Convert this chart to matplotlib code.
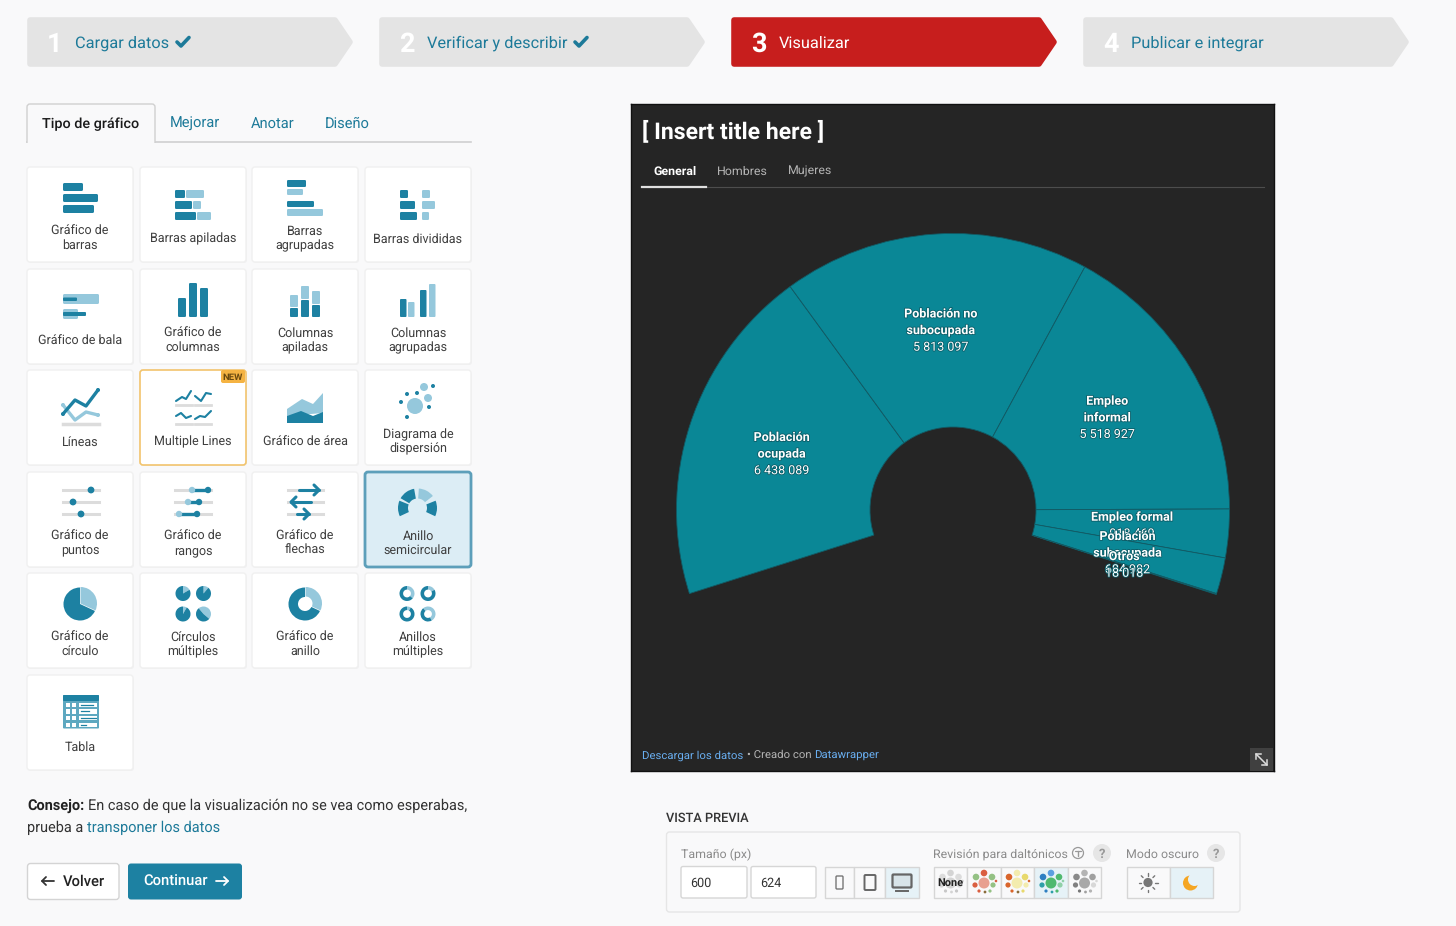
import numpy as np
import matplotlib
matplotlib.use('Agg')
import matplotlib.pyplot as plt
import matplotlib.patheffects as pe
from matplotlib.patches import FancyBboxPatch, Polygon, Wedge, Circle, Rectangle

plt.rcParams['font.family'] = ['Roboto', 'DejaVu Sans']
plt.rcParams['text.hinting'] = 'none'
plt.rcParams['text.hinting_factor'] = 8

# --- chart data ---
slice_names = ['Población\nocupada', 'Población no\nsubocupada', 'Empleo\ninformal',
               'Empleo formal', 'Población\nsubocupada', 'Otros']
slice_values = [6438089, 5813097, 5518927, 918469, 684982, 18018]
slice_labels = ['6 438 089', '5 813 097', '5 518 927', '918 469', '684 982', '18 018']

# --- interface texts ---
steps = ['Cargar datos', 'Verificar y describir', 'Visualizar', 'Publicar e integrar']
tile_names = [
    ['Gráfico de\nbarras', 'Barras apiladas', 'Barras\nagrupadas', 'Barras divididas'],
    ['Gráfico de bala', 'Gráfico de\ncolumnas', 'Columnas\napiladas', 'Columnas\nagrupadas'],
    ['Líneas', 'Multiple Lines', 'Gráfico de área', 'Diagrama de\ndispersión'],
    ['Gráfico de\npuntos', 'Gráfico de\nrangos', 'Gráfico de\nflechas', 'Anillo\nsemicircular'],
    ['Gráfico de\ncírculo', 'Círculos\nmúltiples', 'Gráfico de\nanillo', 'Anillos\nmúltiples'],
    ['Tabla'],
]
tab_names = ['Mejorar', 'Anotar', 'Diseño']
chart_tabs = ['General', 'Hombres', 'Mujeres']

BG = '#f9f9fa'
DARK = '#1d81a2'
LIGHT = '#95c8dc'
GRAY = '#dcdcdc'
LINK = '#1d7a99'
LABEL = '#4a4a4a'
CHART_BG = '#252525'
TEAL = '#0a8796'

fig = plt.figure(figsize=(14.56, 9.26), dpi=100, facecolor=BG)
ax = fig.add_axes([0, 0, 1, 1])
ax.set_xlim(0, 1456)
ax.set_ylim(926, 0)
ax.axis('off')


def box(x0, y0, x1, y1, fc='white', ec='none', r=3, lw=1, z=1):
    p = FancyBboxPatch((x0, y0), x1 - x0, y1 - y0, boxstyle=f'round,pad=0,rounding_size={r}',
                       fc=fc, ec=ec, lw=lw, zorder=z)
    ax.add_patch(p)
    return p


def txt(x, y, s, size=13, color=LABEL, ha='left', weight='normal', z=6, **kw):
    # size is in pixels, the figure runs at 100 dpi; y is the middle of the x-height line
    return ax.text(x, y + 0.36 * size, s, fontsize=size * 0.72, color=color, ha=ha, va='baseline',
                   fontweight=weight, zorder=z, **kw)


def poly(xs, ys, color=DARK, lw=2.0, z=5):
    ax.plot(xs, ys, color=color, lw=lw, solid_capstyle='round', solid_joinstyle='round', zorder=z)


def dot(x, y, r, color=DARK, z=5):
    ax.add_patch(Circle((x, y), r, fc=color, ec='none', zorder=z))


def wedge(cx, cy, r, a1, a2, color=DARK, width=None, z=5):
    # a1, a2 counted the usual way on screen, the axes have y going down
    ax.add_patch(Wedge((cx, cy), r, -a2, -a1, width=width, fc=color, ec='none', zorder=z))


def arrow(x0, x1, y, color=DARK, lw=2.2, head=5):
    d = 1 if x1 > x0 else -1
    poly([x0, x1], [y, y], color, lw)
    poly([x1 - d * head, x1, x1 - d * head], [y - head, y, y + head], color, lw)


# --- wizard steps ---
step_x = [27, 379, 731, 1083]
for i, (x, name) in enumerate(zip(step_x, steps)):
    active = i == 2
    ax.add_patch(Polygon([(x + 3, 20), (x + 308, 20), (x + 323, 42), (x + 308, 64), (x + 3, 64)],
                         closed=True, fc='#c71e1d' if active else '#e4e4e4',
                         ec='#c71e1d' if active else '#e4e4e4', lw=4, joinstyle='round', zorder=1))
    txt(x + 28, 42, str(i + 1), size=27, color='white', ha='center', weight='bold')
    txt(x + 48, 42, name, size=16.4, color='white' if active else LINK)
for cx in [183, 581]:
    poly([cx - 6, cx - 2, cx + 6], [42, 46, 37.5], LINK, 2.6)

# --- tabs ---
ax.plot([27, 471], [142, 142], color='#d0d0d0', lw=1.2, zorder=1)
box(27, 104, 155, 146, fc=BG, ec='#d0d0d0', r=3, z=2)
ax.add_patch(Rectangle((26, 142.6), 130, 6, fc=BG, ec='none', zorder=3))
txt(42, 123, 'Tipo de gráfico', size=14.4, color='#1a1a1a', weight='medium')
for x, name in zip([170, 251, 325], tab_names):
    txt(x, 123, name, size=14.6, color=LINK)

# --- chart type tiles ---
col_x = [27, 140, 252, 365]
row_y = [167, 269, 370, 472, 573, 675]
for r, names in enumerate(tile_names):
    for c, name in enumerate(names):
        x, y = col_x[c], row_y[r]
        fc, ec, lw = 'white', '#f0f0f0', 1
        if name == 'Multiple Lines':
            ec, lw = '#f2c46d', 1.2
        if name.startswith('Anillo\n'):
            fc, ec, lw = '#dcedf5', '#5d9fba', 2
        box(x + 1, y + 2, x + 107, y + 96, fc='#f1f1f2', z=1)
        box(x, y, x + 106, y + 95, fc=fc, ec=ec, lw=lw, z=2)
        tc = '#3f3f3f'
        if '\n' in name:
            l1, l2 = name.split('\n')
            txt(x + 53, y + 63.7, l1, size=12.5, ha='center', color=tc)
            txt(x + 53, y + 77.7, l2, size=12.5, ha='center', color=tc)
        else:
            txt(x + 53, y + 71.2, name, size=12.5, ha='center', color=tc)

box(221, 370, 245, 383, fc='#f5b342', r=2, z=3)
txt(233, 377, 'NEW', size=9.5, ha='center', color='#6b4a10', weight='bold')

# row 1 icons
for y0, y1, x1 in [(183, 191, 83), (194, 202, 98), (205, 213, 94)]:
    box(63, y0, x1, y1, fc=DARK, r=1.5, z=5)
for y0, xm, x1 in [(190, 185, 204), (201, 192, 201), (212, 196, 211)]:
    box(175, y0, xm, y0 + 8, fc=DARK, r=1.2, z=5)
    box(xm + 1, y0, x1, y0 + 8, fc=LIGHT, r=1.2, z=5)
for y0, y1, x1, col in [(180, 187, 306, DARK), (189, 195, 303, LIGHT), (201, 207, 314, DARK), (209, 216, 323, LIGHT)]:
    box(287, y0, x1, y1, fc=col, r=1.2, z=5)
for y0, x1, x2 in [(190, 408, 430), (201, 415, 435), (212, 417, 429)]:
    box(400, y0, x1, y0 + 8, fc=DARK, r=1.2, z=5)
    box(422, y0, x2, y0 + 8, fc=LIGHT, r=1.2, z=5)

# row 2 icons
box(63, 294, 99, 304, fc=LIGHT, r=1.5, z=5)
box(63, 297.5, 77, 301, fc=DARK, r=1, z=6)
box(63, 309, 78, 319, fc=LIGHT, r=1.5, z=5)
box(63, 312, 86, 316, fc=DARK, r=1, z=6)
for x0, y0 in [(178, 298), (189, 283), (200, 288)]:
    box(x0, y0, x0 + 8, 317, fc=DARK, r=1.2, z=5)
for x0, y0, ym in [(290, 295, 308), (301, 286, 300), (312, 291, 305)]:
    box(x0, y0, x0 + 8, ym - 1, fc=LIGHT, r=1, z=5)
    box(x0, ym, x0 + 8, 317, fc=DARK, r=1, z=5)
for x0, y0, col in [(400, 299, DARK), (408, 302, LIGHT), (420, 290, DARK), (429, 284, LIGHT)]:
    box(x0, y0, x0 + 6.5, 317, fc=col, r=1, z=5)

# row 3 icons
ax.plot([63, 99], [424, 424], color=GRAY, lw=2.5, zorder=4)
poly([63, 75, 86, 98], [405, 420, 412, 415], LIGHT, 2.4)
dot(63, 405, 2, LIGHT)
dot(98, 415, 2, LIGHT)
poly([63, 75, 86, 98], [414, 400, 406, 390], DARK, 2.4)
dot(63, 414, 2)
dot(98, 390, 2)
for x0, y0 in [(176, 405), (195, 405), (176, 424), (195, 424)]:
    ax.plot([x0, x0 + 16], [y0, y0], color=GRAY, lw=2, zorder=4)
poly([176, 182, 186, 191], [401, 397, 399, 391], DARK, 1.5)
poly([195, 201, 206, 211], [396, 401, 393, 394], DARK, 1.5)
poly([176, 181, 186, 191], [416, 413, 418, 416], DARK, 1.5)
poly([195, 200, 205, 211], [419, 416, 417, 411], DARK, 1.5)
ax.add_patch(Polygon([(287, 409), (302, 399), (313, 404), (323, 393), (323, 413), (287, 416)], fc=LIGHT, ec='none', zorder=5))
ax.add_patch(Polygon([(287, 416), (301, 411), (313, 416), (323, 412), (323, 423), (287, 423)], fc=DARK, ec='none', zorder=6))
for cx, cy, r, col in [(415, 406, 8, LIGHT), (424, 387, 4, LIGHT), (428, 398, 4, LIGHT), (433, 386, 2, DARK),
                       (407, 394, 2, DARK), (417, 393, 2, DARK), (401, 402, 2, DARK), (429, 407, 2, DARK), (407, 417, 2, DARK)]:
    dot(cx, cy, r, col)

# row 4 icons
for y0, xd in [(490, 91), (502, 73), (514, 81)]:
    ax.plot([63, 99], [y0, y0], color=GRAY, lw=2.2, zorder=4)
    dot(xd, y0, 3.4)
for y0, xa, xb in [(490, 192, 208), (502, 188, 199), (514, 179, 197)]:
    ax.plot([175, 211], [y0, y0], color=GRAY, lw=2.2, zorder=4)
    ax.plot([xa, xb], [y0, y0], color=DARK, lw=2.4, zorder=5)
    dot(xa, y0, 3.2, LIGHT, z=6)
    dot(xb, y0, 3.2, DARK, z=6)
for y0, xa, xb in [(490, 299, 319), (502, 311, 291), (514, 297, 309)]:
    ax.plot([288, 323], [y0, y0], color=GRAY, lw=2.2, zorder=4)
    arrow(xa, xb, y0)
for a1, a2, col in [(158, 205, DARK), (100, 150, DARK), (38, 86, LIGHT), (-25, 22, DARK)]:
    wedge(417.5, 508, 19.5, a1, a2, col, width=10)

# row 5 icons
wedge(80.5, 603.5, 16.5, -25, 90, LIGHT)
wedge(80, 604, 16.5, 90, 335, DARK)
for (cx, cy), a in zip([(183, 593.5), (203.5, 593.5), (183, 614), (203.5, 614)], [(30, 90), (50, 90), (60, 90), (-40, 130)]):
    wedge(cx, cy, 7.5, a[0], a[1], LIGHT)
    wedge(cx, cy, 7.5, a[1], a[0] + 360, DARK)
wedge(305.5, 603.5, 16.5, -25, 90, LIGHT, width=9.5)
wedge(305, 604, 16.5, 90, 335, DARK, width=9.5)
for (cx, cy), a in zip([(407, 593.5), (428, 593.5), (407, 614), (428, 614)], [(-40, 90), (30, 90), (60, 90), (-60, 130)]):
    wedge(cx, cy, 7.5, a[0], a[1], LIGHT, width=3.6)
    wedge(cx, cy, 7.5, a[1], a[0] + 360, DARK, width=3.6)

# table icon
box(63, 695, 99, 728.5, fc='#5ea8c0', r=1, z=5)
box(63, 695, 99, 701, fc=DARK, r=1, z=6)
for i, w in enumerate([12, 8, 15, 5]):
    y0 = 702.5 + i * 6.8
    for x0, x1 in [(65.5, 69.5), (72, 76), (79, 97)]:
        ax.add_patch(Rectangle((x0, y0), x1 - x0, 4.2, fc='white', ec='none', zorder=6))
    ax.plot([81, 81 + w], [y0 + 2.1, y0 + 2.1], color=DARK, lw=0.9, zorder=7)

# --- hint and buttons ---
txt(27, 805, 'Consejo:', size=14.5, color='#222222', weight='bold')
txt(88, 805, 'En caso de que la visualización no se vea como esperabas,', size=14.5, color='#333333')
txt(27, 827, 'prueba a', size=14.5, color='#333333')
txt(87, 827, 'transponer los datos', size=14.5, color=LINK)
box(27.5, 863.5, 119, 899.5, fc='white', ec='#d4d4d4', r=3, z=2)
arrow(54, 42, 881, '#333333', 1.3, 4)
txt(63, 881, 'Volver', size=14.8, color='#222222', weight='medium')
box(128, 863.5, 242, 899.5, fc=DARK, r=3, z=2)
txt(143, 881, 'Continuar', size=14.8, color='white', weight='medium')
arrow(216, 228, 881, 'white', 1.3, 4)

# --- chart panel, in its own axes so pie() works with y going up ---
px0, px1, py0, py1 = 631, 1274, 104, 771
cx, cy = 953, 510
chart = fig.add_axes([px0 / 1456, 1 - py1 / 926, (px1 - px0) / 1456, (py1 - py0) / 926], zorder=3)
chart.set_facecolor(CHART_BG)
for s in chart.spines.values():
    s.set_color('#111111')
    s.set_linewidth(1)

# the semicircle covers about 215 degrees, an unseen slice takes up the rest
sweep = 215.4
total = sum(slice_values)
hidden = total * (360 - sweep) / sweep
outer = 276.5
inner = 83
start = 197.6
wedges, _ = chart.pie(slice_values + [hidden], startangle=start, counterclock=False, radius=outer,
                      center=(0, 0), colors=[TEAL] * len(slice_values) + ['none'],
                      wedgeprops=dict(width=outer - inner, edgecolor='#125a64', linewidth=0.6),
                      frame=True)
wedges[-1].set_visible(False)
chart.set_aspect('auto')
chart.set_xlim(px0 - cx, px1 - cx)
chart.set_ylim(cy - py1, cy - py0)
chart.set_xticks([])
chart.set_yticks([])

halo = [pe.withStroke(linewidth=1.2, foreground='#0b5d68')]
ends = np.cumsum(slice_values)
for name, label, v, e in zip(slice_names, slice_labels, slice_values, ends):
    ang = np.radians(start - (e - v / 2) / total * sweep)
    lx, ly = 180 * np.cos(ang), 180 * np.sin(ang)
    lines = name.split('\n')
    n = len(lines) + 1
    for i, line in enumerate(lines + [label]):
        is_value = i == n - 1
        chart.text(lx - 0.3, ly + ((n - 1) / 2 - i) * 16.6 - 3.7, line, ha='center', va='baseline', color='white',
                   fontsize=12.5 * 0.72, fontweight='normal' if is_value else 'bold', path_effects=halo, zorder=6)


def ctext(x, y, s, size, color, weight='normal', ha='left'):
    chart.text(x - cx, cy - y - 0.36 * size + 0.8, s, fontsize=size * 0.72, color=color, fontweight=weight, ha=ha, va='baseline', zorder=7)


ctext(642, 131, '[ Insert title here ]', 23, 'white', 'bold')
for x, name, col, w in zip([653, 717, 788], chart_tabs, ['white', '#b4b4b4', '#b4b4b4'], ['bold', 'normal', 'normal']):
    ctext(x, 171, name, 12.4, col, w)
chart.plot([642 - cx, 1264 - cx], [cy - 187, cy - 187], color='#4d4d4d', lw=0.8, zorder=5)
chart.plot([642 - cx, 706 - cx], [cy - 186.5, cy - 186.5], color='#e0e0e0', lw=1.6, zorder=6)
ctext(642, 755, 'Descargar los datos', 11.4, '#69aef0')
ctext(747, 755, '• Creado con', 11.4, '#b4b4b4')
ctext(814, 755, 'Datawrapper', 11.4, '#69aef0')
chart.add_patch(Rectangle((1250 - cx, cy - 771), 23, 23, fc='#404040', ec='none', zorder=5))
chart.plot([1256 - cx, 1267 - cx], [cy - 754, cy - 765], color='#dddddd', lw=1.1, zorder=6)
for tx, ty, dx, dy in [(1256, 754, 1, 1), (1267, 765, -1, -1)]:
    chart.plot([tx + 5 * dx - cx, tx - cx, tx - cx], [cy - ty, cy - ty, cy - (ty + 5 * dy)], color='#dddddd', lw=1.1, zorder=6)

# --- preview controls ---
txt(666, 817.5, 'VISTA PREVIA', size=12.7, color='#333333', weight='medium')
box(666.5, 832, 1240, 912, fc=BG, ec='#e6e6e6', r=3, z=1)
txt(681, 853.5, 'Tamaño (px)', size=12.4, color='#8a8a8a')
txt(933, 853.5, 'Revisión para daltónicos', size=12.4, color='#8a8a8a')
txt(1126, 853.5, 'Modo oscuro', size=12.4, color='#8a8a8a')
for hx in [1102, 1216]:
    dot(hx, 853, 9, '#e6e6e6', z=2)
    txt(hx, 853, '?', size=13, color='#999999', ha='center', weight='bold')
ax.add_patch(Circle((1078, 853), 5.5, fc='none', ec='#999999', lw=0.9, zorder=3))
poly([1078, 1078], [851, 856], '#999999', 1)
poly([1075, 1081], [851, 851], '#999999', 0.9)

for x0, x1, s in [(681, 747, '600'), (751, 816, '624')]:
    box(x0, 866.5, x1, 898, fc='white', ec='#d6d6d6', r=2, z=2)
    txt(x0 + 9, 882.5, s, size=12.6, color='#333333')


def button_row(edges, selected):
    for j, (x0, x1) in enumerate(zip(edges[:-1], edges[1:])):
        fc = '#e6f2f7' if j == selected else BG
        ax.add_patch(Rectangle((x0, 867), x1 - x0, 31, fc=fc, ec='#d6d6d6', lw=1, zorder=2))


button_row([824.5, 854, 885, 918.5], 2)
button_row([933.5, 967, 1000.5, 1034, 1068, 1101], 3)
button_row([1126.5, 1170, 1212.5], 1)

box(836, 876, 843, 889, fc='none', ec='#777777', r=1, lw=1, z=4)
box(864.5, 875, 875.5, 890, fc='none', ec='#666666', r=1, lw=1.4, z=4)
box(892.5, 874.5, 911.5, 887.5, fc='#d8e4e9', ec='#666666', r=1, lw=1.6, z=4)
ax.plot([896, 908], [890.5, 890.5], color='#666666', lw=1.4, zorder=4)

cluster_spots = [(0, 3, 5.5), (-8, -3, 3.3), (0, -7, 3.3), (8, -3, 3.3), (-9, 5, 2.6), (9, 5, 2.6), (-5, 11, 1.6), (1, 12, 1.4), (6, 11, 1.6), (12, 1, 1.3)]
cluster_cols = [
    ['#d4d4d4', '#dcdcdc', '#d4d4d4', '#dcdcdc', '#d4d4d4', '#dcdcdc', '#c8c8c8', '#d4d4d4', '#c8c8c8', '#d4d4d4'],
    ['#e8a090', '#94c184', '#da5f41', '#94c184', '#da5f41', '#94c184', '#da5f41', '#8a6d3b', '#94c184', '#da5f41'],
    ['#f3ecae', '#d9652b', '#f3ecae', '#e8d96d', '#d9652b', '#f3ecae', '#d9652b', '#8a6d3b', '#e8d96d', '#d9652b'],
    ['#4fb96f', '#2e7fc2', '#5b9fe0', '#4fb96f', '#2e9fa8', '#8fd0a8', '#2e7fc2', '#2e9fa8', '#4fb96f', '#8fd0a8'],
    ['#a8a8a8', '#8a8a8a', '#b4b4b4', '#a0a0a0', '#808080', '#d8d8d8', '#777777', '#a0a0a0', '#b4b4b4', '#d8d8d8'],
]
for k, colx in enumerate([950.5, 984, 1017, 1051, 1084.5]):
    for (dx, dy, r), col in zip(cluster_spots, cluster_cols[k]):
        dot(colx + dx, 880 + dy, r, col, z=4)
txt(950.5, 881.5, 'None', size=11, color='#222222', ha='center', weight='bold')

# sun and moon
dot(1148, 882.5, 4.6, '#777777', z=4)
for a in np.radians(np.arange(0, 360, 45)):
    poly([1148 + 7 * np.cos(a), 1148 + 9.5 * np.cos(a)], [882.5 + 7 * np.sin(a), 882.5 + 9.5 * np.sin(a)], '#777777', 1)
dot(1190.5, 883, 7.5, '#f5a623', z=4)
dot(1194.5, 879.5, 6.5, '#e6f2f7', z=5)

fig.savefig('out.png', dpi=100, facecolor=BG)
